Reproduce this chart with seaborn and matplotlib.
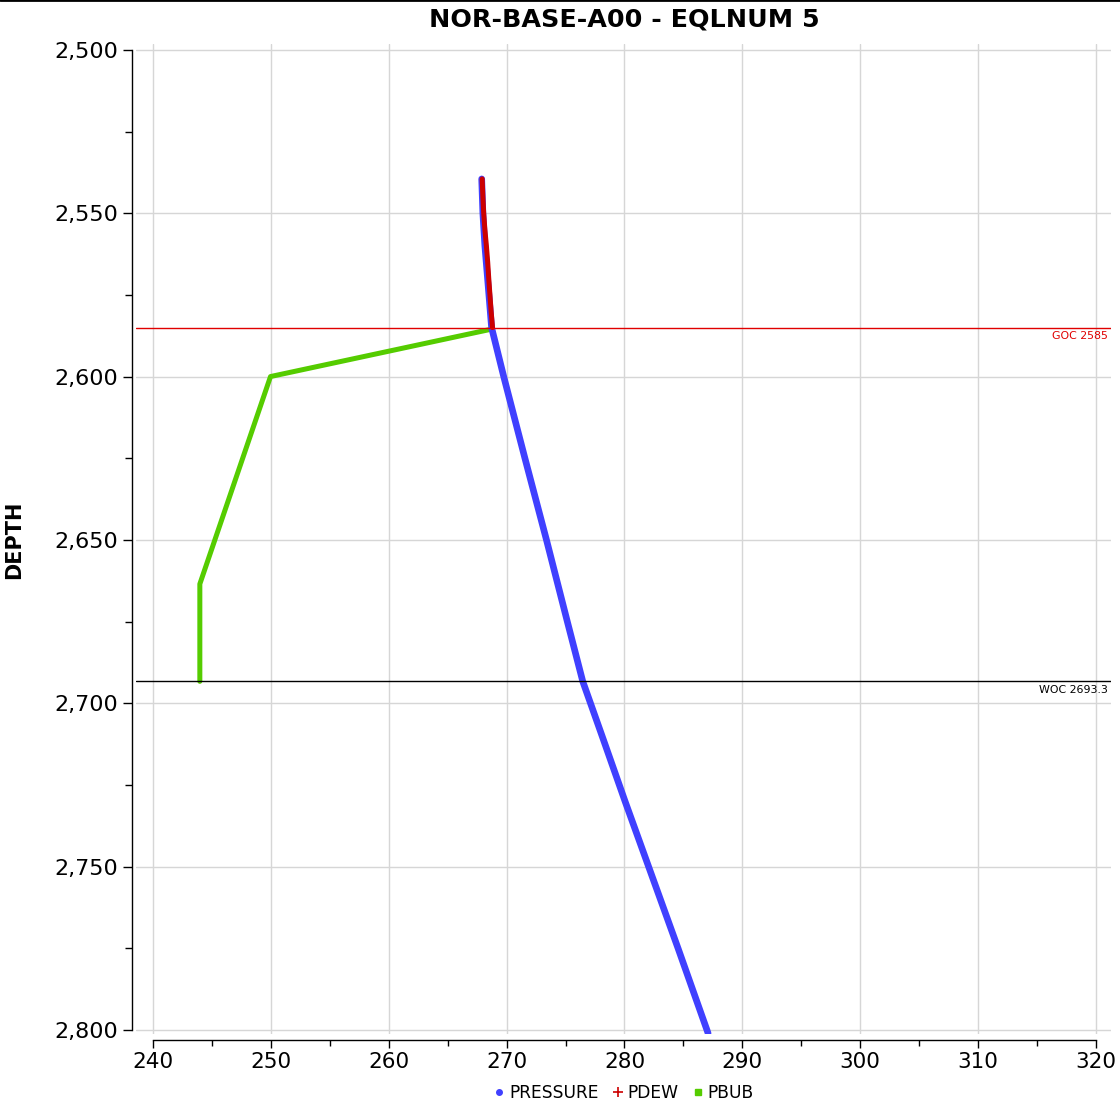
import matplotlib
matplotlib.use("Agg")
import matplotlib.pyplot as plt
import numpy as np
import pandas as pd
import seaborn as sns
from matplotlib.lines import Line2D
from matplotlib.ticker import FuncFormatter, MultipleLocator

# values (pressure in bar, depth in m)
pressure_depth = [2539.5, 2550, 2560, 2570, 2585, 2600, 2625, 2650, 2675, 2693.3, 2710, 2730, 2750, 2775, 2801]
pressure_value = [267.88, 267.98, 268.15, 268.38, 268.72, 269.75, 271.55, 273.38, 275.15, 276.46, 278.1, 280.05, 282.05, 284.55, 287.1]

pdew_depth = [2539.5, 2545, 2550, 2555, 2560, 2565, 2570, 2575, 2580, 2585]
pdew_value = [267.92, 267.98, 268.05, 268.15, 268.28, 268.39, 268.48, 268.58, 268.68, 268.80]

pbub_depth = [2585.5, 2600, 2663.5, 2693.3]
pbub_value = [268.7, 249.95, 243.95, 243.95]

goc_depth = 2585
woc_depth = 2693.3

title = "NOR-BASE-A00 - EQLNUM 5"
x_ticks = [240, 250, 260, 270, 280, 290, 300, 310, 320]
y_ticks = [2500, 2550, 2600, 2650, 2700, 2750, 2800]

blue = "#4040ff"
red = "#cc0000"
green = "#55cc00"

sns.set_style("whitegrid")
plt.rcParams['font.family'] = ['DejaVu Sans']
plt.rcParams.update({"text.color": "black", "axes.labelcolor": "black",
                     "xtick.color": "black", "ytick.color": "black"})

fig = plt.figure(figsize=(11.2, 11.07), dpi=100)
ax = fig.add_axes([136 / 1120, 1 - 1033.5 / 1107, 975 / 1120, 989.5 / 1107])

df_p = pd.DataFrame({"p": pressure_value, "d": pressure_depth})
df_dew = pd.DataFrame({"p": pdew_value, "d": pdew_depth})
df_bub = pd.DataFrame({"p": pbub_value, "d": pbub_depth})

sns.lineplot(data=df_bub, x="p", y="d", sort=False, estimator=None, color=green, lw=3.6, ax=ax)
sns.lineplot(data=df_p, x="p", y="d", sort=False, estimator=None, color=blue, lw=4.8, ax=ax)
sns.lineplot(data=df_dew, x="p", y="d", sort=False, estimator=None, color=red, lw=3.6, ax=ax)

# contacts
ax.axhline(goc_depth, color="#e00000", lw=1.0)
ax.axhline(woc_depth, color="black", lw=1.0)
ax.annotate(f"GOC {goc_depth}", xy=(1, goc_depth), xycoords=ax.get_yaxis_transform(),
            xytext=(-2.5, -2.5), textcoords="offset points", ha="right", va="top",
            fontsize=7.9, color="#e00000")
ax.annotate(f"WOC {woc_depth}", xy=(1, woc_depth), xycoords=ax.get_yaxis_transform(),
            xytext=(-2.5, -2.5), textcoords="offset points", ha="right", va="top",
            fontsize=7.9, color="black")

ax.set_xlim(238.53, 321.31)
ax.set_ylim(2801.1, 2498.2)
ax.set_xticks(x_ticks)
ax.set_yticks(y_ticks)
ax.xaxis.set_minor_locator(MultipleLocator(5))
ax.yaxis.set_minor_locator(MultipleLocator(25))
ax.yaxis.set_major_formatter(FuncFormatter(lambda v, pos: f"{v:,.0f}"))

ax.grid(True, which="major", color="#d6d6d6", lw=1.0)
ax.grid(False, which="minor")
ax.set_xlabel("")
ax.set_ylabel("")

for s in ["top", "right"]:
    ax.spines[s].set_visible(False)
ax.spines["left"].set_position(("outward", 2.9))
ax.spines["bottom"].set_position(("outward", 4.7))
ax.spines["left"].set_bounds(2500, 2800)
ax.spines["bottom"].set_bounds(240, 320)
for s in ["left", "bottom"]:
    ax.spines[s].set_color("black")
    ax.spines[s].set_linewidth(1.0)

ax.tick_params(axis="y", which="major", left=True, length=6.5, width=1, pad=3.5, labelsize=16, color="black", labelcolor="black")
ax.tick_params(axis="y", which="minor", left=True, length=5, width=1, color="black")
ax.tick_params(axis="x", which="major", bottom=True, length=5.5, width=1, pad=3, labelsize=15.5, color="black", labelcolor="black")
ax.tick_params(axis="x", which="minor", bottom=True, length=4.5, width=1, color="black")

fig.text(624 / 1120, 1 - 19 / 1107, title, ha="center", va="center", fontsize=18.3, fontweight="bold", color="black")
fig.text(14 / 1120, 1 - 540 / 1107, "DEPTH", rotation=90, ha="center", va="center", fontsize=15, fontweight="bold", color="black")

handles = [
    Line2D([], [], ls="", marker="o", ms=4, color=blue),
    Line2D([], [], ls="", marker="+", ms=7, mew=1.2, color=red),
    Line2D([], [], ls="", marker="s", ms=5, color=green),
]
fig.legend(handles, ["PRESSURE", "PDEW", "PBUB"], loc="center", bbox_to_anchor=(624 / 1120, 1 - 1093 / 1107),
           ncol=3, frameon=False, fontsize=12.3, handlelength=0.6, handletextpad=0.3, columnspacing=0.8,
           labelcolor="black")

fig.add_artist(Line2D([0, 1], [1, 1], transform=fig.transFigure, color="black", lw=2))

fig.savefig("out.png", dpi=100)
